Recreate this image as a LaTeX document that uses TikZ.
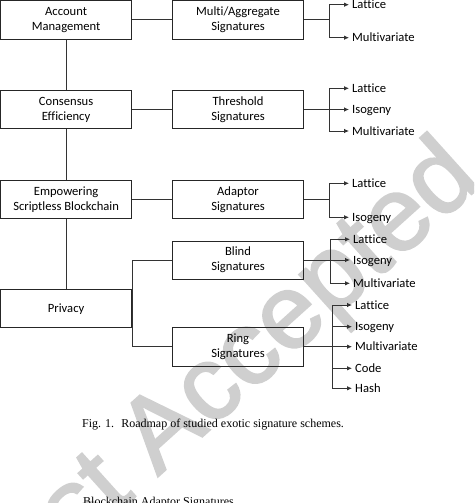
\documentclass[tikz,border=0pt]{standalone}
\usepackage{fontspec}
\setmainfont{Carlito}[Ligatures=NoCommon]
\newfontfamily\capfont{Liberation Serif}
\newfontfamily\wmfont{Liberation Sans}[FakeBold=2]
\usetikzlibrary{arrows.meta}
\begin{document}
\begin{tikzpicture}[x=1pt,y=-1pt,
  box/.style={draw=black!85, line width=1pt, minimum width=131pt, minimum height=37.6pt,
    align=center, inner sep=0pt, font=\fontsize{12.6}{15}\selectfont},
  lab/.style={anchor=west, inner xsep=3pt, inner ysep=0pt, text height=8.1pt, text depth=0pt,
    font=\fontsize{12.6}{15}\selectfont},
  conn/.style={draw=black!80, line width=0.8pt},
  arr/.style={conn, -{Latex[length=5pt,width=4.5pt]}},
  wmark/.style={rotate=42, anchor=base west, text=black!19, inner sep=0pt,
    font=\wmfont\fontsize{105}{105}\selectfont}
]
\useasboundingbox (0,0) rectangle (474,503);
\begin{scope}
  \clip (0,0) rectangle (474,503);
  \node[wmark] (wm) at (-7,625) {Just Accepted};
  \node[anchor=base west, inner sep=0pt, font=\capfont\fontsize{12}{14}\selectfont] (frag) at (83,505.5) {Blockchain Adaptor Signatures};
\end{scope}

% left column
\node[box, minimum height=38.5pt] (am) at (66.1,19.8) {Account\\Management};
\node[box] (ce) at (66.1,109.5) {Consensus\\Efficiency};
\node[box] (em) at (66.1,199.5) {Empowering\\Scriptless Blockchain};
\node[box] (pr) at (66.1,308.7) {Privacy};
% middle column
\node[box, minimum height=38.5pt] (ma) at (238,19.8) {Multi/Aggregate\\Signatures};
\node[box] (th) at (238,109.5) {Threshold\\Signatures};
\node[box] (ad) at (238,199.5) {Adaptor\\Signatures};
\node[box, minimum height=38pt] (bl) at (238,260) {Blind\\Signatures};
\node[box, minimum height=38.6pt] (ri) at (238,346.7) {Ring\\Signatures};

% left connectors
\draw[conn] (am.south) -- (ce.north);
\draw[conn] (ce.south) -- (em.north);
\draw[conn] (em.south) -- (pr.north);
\draw[conn] (am.east) -- (ma.west);
\draw[conn] (ce.east) -- (th.west);
\draw[conn] (em.east) -- (ad.west);
\draw[conn] (bl.west) -- (bl.west -| pr.east) -- (ri.west -| pr.east) -- (ri.west);

% Multi/Aggregate
\node[lab] (ma1) at (349,4.7) {Lattice};
\node[lab] (ma2) at (349,37.7) {Multivariate};
\coordinate (bma) at (329.3,19.8);
\draw[conn] (ma.east) -- (bma);
\draw[arr] (bma) |- (ma1.west);
\draw[arr] (bma) |- (ma2.west);

% Threshold
\node[lab] (th1) at (349,88.3) {Lattice};
\node[lab] (th2) at (349,109.5) {Isogeny};
\node[lab] (th3) at (349,131) {Multivariate};
\coordinate (bth) at (329.3,109.5);
\draw[arr] (th.east) -- (th2.west);
\draw[arr] (bth) |- (th1.west);
\draw[arr] (bth) |- (th3.west);

% Adaptor
\node[lab] (ad1) at (349,183.3) {Lattice};
\node[lab] (ad2) at (349,217.3) {Isogeny};
\coordinate (bad) at (329.3,199.5);
\draw[conn] (ad.east) -- (bad);
\draw[arr] (bad) |- (ad1.west);
\draw[arr] (bad) |- (ad2.west);

% Blind
\node[lab] (bl1) at (350,239.3) {Lattice};
\node[lab] (bl2) at (350,260) {Isogeny};
\node[lab] (bl3) at (350,283.3) {Multivariate};
\coordinate (bbl) at (330,260);
\draw[arr] (bl.east) -- (bl2.west);
\draw[arr] (bbl) |- (bl1.west);
\draw[arr] (bbl) |- (bl3.west);

% Ring
\node[lab] (ri1) at (352,305) {Lattice};
\node[lab] (ri2) at (352,326.7) {Isogeny};
\node[lab] (ri3) at (352,346.7) {Multivariate};
\node[lab] (ri4) at (352,368.3) {Code};
\node[lab] (ri5) at (352,388.3) {Hash};
\coordinate (bri) at (332.3,346.7);
\draw[arr] (ri.east) -- (ri3.west);
\draw[arr] (bri) |- (ri1.west);
\draw[arr] (bri) |- (ri2.west);
\draw[arr] (bri) |- (ri4.west);
\draw[arr] (bri) |- (ri5.west);

% caption
\node[font=\capfont\fontsize{12}{14}\selectfont, inner sep=0pt] (cap) at (213,425) {Fig. 1.\hspace{0.6em}Roadmap of studied exotic signature schemes.};
\end{tikzpicture}
\end{document}
